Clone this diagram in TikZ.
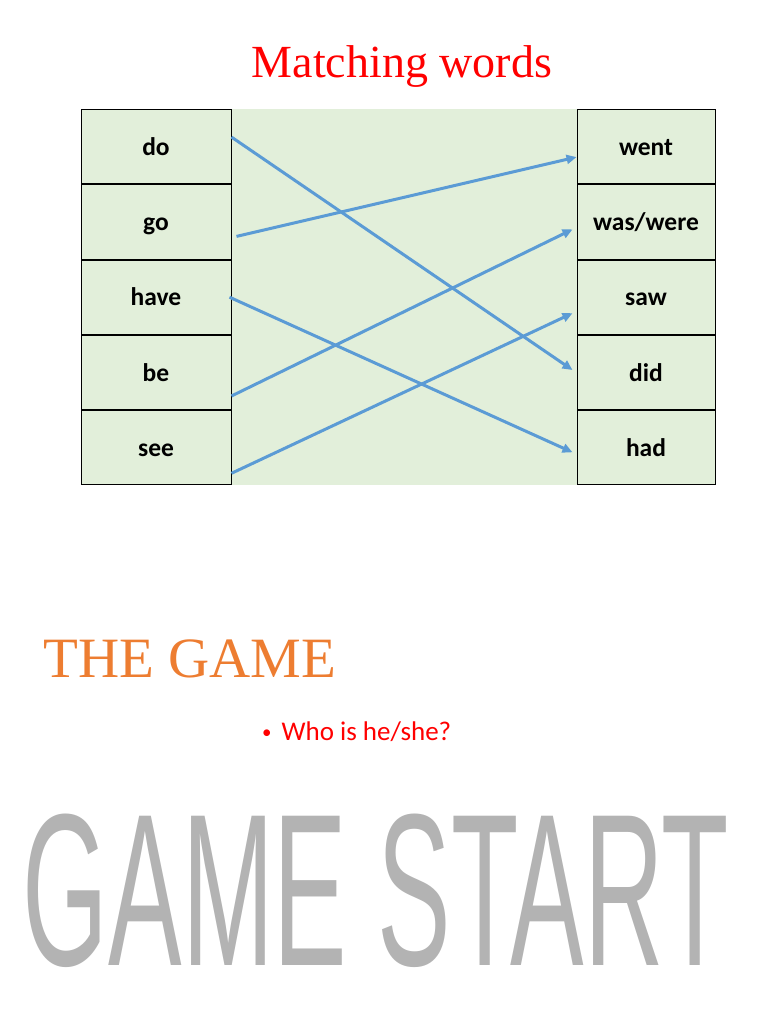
\documentclass[tikz,border=0pt]{standalone}
\usepackage{fontspec}
\setmainfont{Liberation Serif}
\newfontfamily\calibri{Carlito}
\newfontfamily\arialfont{Liberation Sans}
\usetikzlibrary{positioning,arrows.meta}

\definecolor{cellgreen}{HTML}{E2EFDA}
\definecolor{linkblue}{HTML}{5B9BD5}
\definecolor{gameorange}{HTML}{ED7D31}
\definecolor{startgray}{HTML}{B3B3B3}

\tikzset{
  cell/.style={draw, line width=1pt, fill=cellgreen, minimum height=74.3pt,
    inner sep=0pt, text height=19pt, text depth=2pt,
    font=\calibri\bfseries\fontsize{25.5}{28}\selectfont},
  leftcell/.style={cell, minimum width=150pt},
  rightcell/.style={cell, minimum width=138pt},
  link/.style={linkblue, line width=3pt, -{Triangle[length=10pt,width=9pt]}}
}

\begin{document}
\begin{tikzpicture}[x=1pt, y=-1pt]
\useasboundingbox (0,0) rectangle (768,1024);

% Title
\node[red, anchor=base, font=\fontsize{46}{50}\selectfont] (title) at (402,78) {Matching words};

% Background
\fill[cellgreen] (81,109) rectangle (715,485);

% Left column
\node[leftcell] (do) at (156,146.6) {do};
\node[leftcell, below=0pt of do] (go) {go};
\node[leftcell, below=0pt of go] (have) {have};
\node[leftcell, below=0pt of have] (be) {be};
\node[leftcell, below=0pt of be] (see) {see};

% Right column
\node[rightcell] (went) at (646,146.6) {went};
\node[rightcell, below=0pt of went] (was) {was/were};
\node[rightcell, below=0pt of was] (saw) {saw};
\node[rightcell, below=0pt of saw] (did) {did};
\node[rightcell, below=0pt of did] (had) {had};

% Matches
\draw[link] ([yshift=9.5pt]do.east) -- ([xshift=-4pt, yshift=2.5pt]did.west);
\draw[link] ([xshift=5pt, yshift=-14.5pt]go.east) -- ([yshift=-10.5pt]went.west);
\draw[link] ([xshift=-2pt]have.east) -- ([xshift=-4pt, yshift=-4.5pt]had.west);
\draw[link] ([yshift=-23.5pt]be.east) -- ([xshift=-4pt, yshift=-7.5pt]was.west);
\draw[link] ([yshift=-25.5pt]see.east) -- ([xshift=-4pt, yshift=-16pt]saw.west);

% The game
\node[gameorange, anchor=base west, inner sep=0pt, font=\fontsize{57}{60}\selectfont] (game) at (43,677) {THE GAME};
\node[red, anchor=base west, inner sep=0pt, font=\calibri\fontsize{27}{30}\selectfont] (who) at (262,740)
  {\raisebox{2pt}{\scalebox{0.7}{\textbullet}}\hspace{10pt}Who is he/she?};

% Start
\node[startgray, anchor=base, inner sep=0pt] (start) at (376,965)
  {\scalebox{0.508}[1]{\arialfont\fontsize{217}{217}\selectfont GAME START}};

\end{tikzpicture}
\end{document}
